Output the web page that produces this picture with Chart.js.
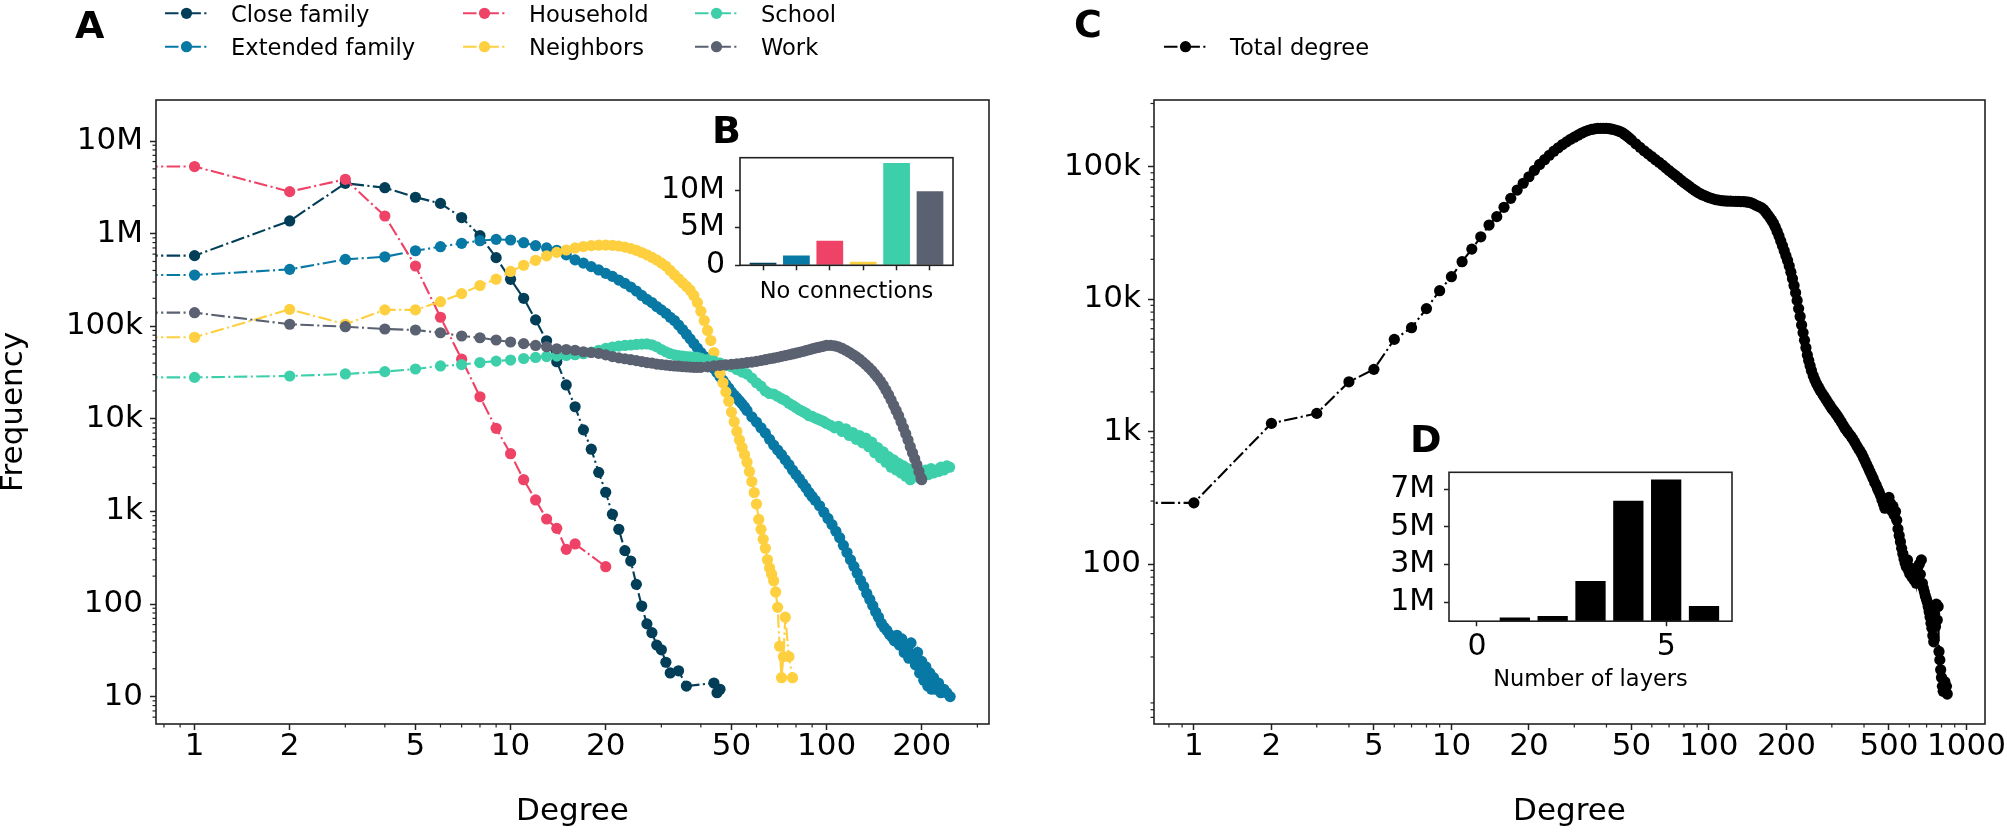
<!DOCTYPE html>
<html><head><meta charset="utf-8">
<script src="https://cdn.jsdelivr.net/npm/chart.js@4.4.1/dist/chart.umd.min.js"></script>
<style>
html,body{margin:0;padding:0;background:#fff;width:2007px;height:836px;overflow:hidden;}
canvas{position:absolute;}
#ov{position:absolute;left:0;top:0;pointer-events:none;font-family:'DejaVu Sans',sans-serif;}
</style></head><body>
<canvas id="cA" width="1040" height="836" style="left:0;top:0"></canvas>
<canvas id="cC" width="967" height="836" style="left:1040px;top:0"></canvas>
<canvas id="cB" width="330" height="175" style="left:640px;top:140px"></canvas>
<canvas id="cD" width="380" height="245" style="left:1370px;top:455px"></canvas>
<svg id="ov" width="2007" height="836" xmlns="http://www.w3.org/2000/svg"></svg>
<script>
// ---------------- DATA ----------------
// Panel A: degree distributions per layer
const closeDeg = [1,2,3,4,5,6,7,8,9,10,11,12,13,14,15,16,17,18,19,20,21,22,23,24,25,26,27,28,29,30,31,32,34,36,44,45,46];
const closeVal = [578000,1370000,3490000,3130000,2470000,2120000,1490000,949000,550000,321000,200000,117000,69600,41400,23200,13500,7600,4700,2640,1610,930,641,377,291,163,95,61,49,36,32,23.5,18,19,13,14,11,12];

const householdDeg = [1,2,3,4,5,6,7,8,9,10,11,12,13,14,15,16,20];
const householdVal = [5300000,2840000,3860000,1550000,447000,125000,44000,17300,7900,4200,2200,1330,828,656,389,445,253];

const extendedDeg = [1,2,3,4,5,6,7,8,9,10,11,12,13,14,15,16,17,18,19,20,21,22,23,24,25,26,27,28,29,30,31,32,33,34,35,36,37,38,39,40,41,42,43,44,45,46,47,48,49,50,51,52,53,54,55,56,
58,60,62,64,66,68,70,72,74,76,78,80,82,84,86,88,90,92,
95,98,101,104,107,110,113,116,119,122,125,128,131,134,137,140,143,146,149,152,155,158,161,164,167,170,173,176,179,182,185,188,191,194,197,200,203,206,209,212,215,218,
222,226,230,235,240,246];
const extendedVal = [357000,411000,527000,562000,653000,722000,786000,838000,867000,853000,798000,740000,700000,660000,590000,520000,480000,440000,405000,372000,345000,315000,290000,265000,240000,215000,195000,180000,163000,150000,138000,125000,115000,103000,92000,82000,73000,65000,58000,52000,
47000,43000,39000,35000,31500,28500,26000,23500,21500,19500,18000,16800,15600,14500,13400,12300,
10500,9200,8000,7000,6000,5200,4600,4100,3600,3200,2800,2500,2250,2000,1800,1600,1450,1320,
1150,980,840,720,610,520,430,360,300,255,215,180,155,130,112,96,82,72,62,56,52,47,44,40,46,36,42,30,34,26,38,28,22,30,18,24,15,21,13,18,12,16,
12,14,11,12,11,10];

const neighborsDeg = [1,2,3,4,5,6,7,8,9,10,11,12,13,14,15,16,17,18,19,20,21,22,23,24,25,26,27,28,29,30,31,32,33,34,35,36,37,38,39,40,41,42,43,44,45,46,47,48,49,50,51,52,53,54,55,56,57,58,59,60,61,62,63,64,65,66,67,68,69,70,71,72,73,74,76,78];
const neighborsVal = [75900,152000,105000,150000,150000,184000,225000,275000,322000,390000,
455000,515000,575000,627000,665000,700000,725000,742000,750000,752000,
748000,735000,715000,690000,660000,625000,590000,555000,519000,480000,
445000,400000,360000,325000,295000,270000,245000,215000,180000,145000,
115000,90000,70000,52000,40000,31000,24500,19500,15500,11800,
9300,7300,5900,4900,4100,3400,2700,2100,1600,1200,
820,640,500,400,300,245,210,178,135,92,
35,16,27,72,27,16];

const schoolDeg = [1,2,3,4,5,6,7,8,9,10,11,12,13,14,15,16,17,18,19,20,21,22,23,24,25,26,27,28,29,30,31,32,33,34,35,36,37,38,39,40,
42,44,46,48,50,52,54,56,58,60,62,64,66,68,70,72,74,76,78,80,82,84,86,88,90,92,94,96,98,100,
103,106,109,112,115,118,121,124,127,130,133,136,139,142,145,148,151,154,157,160,163,166,169,172,175,178,181,184,187,190,193,196,199,202,
206,210,214,218,222,226,230,235,240,245];
const schoolVal = [28000,29000,30500,32300,34500,37200,38500,40500,42000,43100,44800,46000,47000,47600,48300,49200,50500,52500,55000,57500,59500,61000,62000,62700,63500,64000,64300,63000,60000,56000,53000,50500,49000,48000,47500,47000,46800,46500,46000,45000,
43500,42000,40000,38000,36500,34000,32000,30500,27500,24500,22500,20000,18800,18500,17500,16500,15800,14700,14000,13200,12500,12000,11500,10800,10600,10200,9900,9600,9300,8900,
8500,8000,8300,7300,7800,6600,7100,6000,6600,5500,6200,5000,5600,4300,4900,3800,4400,3400,3900,3000,3600,2800,3300,2600,3100,2400,2900,2200,2700,2400,2800,2300,2600,2400,
2800,2500,2900,2600,2800,2700,3000,2800,3100,3000];

const workDeg = [1,2,3,4,5,6,7,8,9,10,11,12,13,14,15,16,17,18,19,20,21,22,23,24,25,26,27,28,29,30,31,32,33,34,35,36,37,38,39,40,
42,44,46,48,50,52,54,56,58,60,62,64,66,68,70,72,74,76,78,80,82,84,86,88,90,92,94,96,98,100,
103,106,109,112,115,118,121,124,127,130,133,136,139,142,145,148,151,154,157,160,163,166,169,172,175,178,181,184,187,190,193,196,199,200];
const workVal = [140000,105000,98800,93300,91000,85000,78400,75000,71000,67500,64800,62000,60000,57000,56000,55000,53000,52000,51000,49000,47000,45500,44500,43500,42500,41500,40500,40000,39000,38500,38000,37500,37200,37000,36600,36400,36200,36000,36000,36000,
36400,37200,37800,38300,38800,39300,39800,40400,41000,41800,42600,43500,44500,45300,46200,47200,48200,49200,50200,51200,52200,53300,54500,55700,56900,58000,59000,60000,61000,62000,
62200,61400,59800,57500,55000,52300,49500,46900,44000,41200,38500,35800,33200,30500,28000,25500,23000,20500,18200,16000,14000,12300,10800,9300,8000,6900,5900,5000,4300,3700,3200,2700,2300,2200];

// Panel B: people with no connections per layer
const noConnLabels = ['Close family','Extended family','Household','Neighbors','School','Work'];
const noConnVal = [350000,1300000,3250000,470000,13600000,9850000];

// Panel C: total degree distribution
const totalDeg = [1,2,3,4,5,6,7,8,9,10,11,12,13,14,15,16,17,18,19,20,21,22,23,24,25,26,27,28,29,30,31,32,33,34,35,36,37,38,39,40,41,42,43,44,45,46,47,48,49,50,
52,54,56,58,60,62,64,66,68,70,72,74,76,78,80,82,84,86,88,90,92,94,96,98,100,
103,106,109,112,115,118,121,124,127,130,133,136,139,142,145,148,151,154,157,160,163,166,169,172,175,178,181,184,187,190,193,196,199,
202,205,208,211,214,217,220,223,226,229,232,235,238,241,244,247,250,
254,258,262,266,270,275,280,285,290,295,300,305,310,315,320,
326,332,338,344,350,356,362,368,374,380,386,392,398,404,410,416,422,428,434,440,446,452,458,464,470,476,482,488,494,500,
506,512,518,524,530,536,542,548,554,560,566,572,578,584,590,596,602,608,614,620,626,632,638,644,650,656,662,668,674,680,
686,692,698,704,710,716,722,728,734,740,746,752,758,764,770,776,782,788,794,800,806,812,818,824,830,836,842];
const totalVal = [291,1157,1376,2382,2958,4977,6100,8500,11600,14800,19200,23900,29600,36300,42000,49400,57700,66700,75000,84000,94000,104000,113000,122000,131000,139000,147000,154000,161000,167000,173000,179000,184000,188000,191000,193000,194500,195000,195000,194500,193500,192000,190000,187500,184500,181000,176000,170500,165000,159500,
149000,140000,132000,125000,119000,113000,108000,103000,98000,93500,89500,86000,82500,79000,76000,73500,71000,68500,66500,64500,63000,61500,60500,59500,58500,
57500,56500,56000,55500,55200,55000,55000,54900,54800,54700,54600,54500,54300,54000,53500,52800,51500,50700,49900,49000,47500,45500,43500,41500,39500,37400,35000,32500,30000,27500,25300,23200,21300,
19600,17800,16000,14300,12700,11200,9800,8500,7400,6400,5600,4900,4300,3800,3450,3150,2900,
2650,2450,2300,2180,2060,1950,1850,1750,1660,1580,1500,1440,1380,1320,1260,
1190,1120,1060,1010,965,925,880,835,790,750,715,680,640,600,565,530,500,470,445,415,395,370,350,330,305,285,265,300,270,320,
290,255,275,235,250,215,185,165,148,132,120,110,102,96,108,90,85,94,80,88,76,82,72,92,78,100,84,108,72,66,
62,58,55,52,48,44,40,36,33,29,26,42,34,50,38,48,22,19,16,14,12,11,12,13,11,12,10.5];

// Panel D: number of layers each person belongs to
const layersX = [0,1,2,3,4,5,6];
const layersVal = [0,200000,270000,2130000,6380000,7510000,800000];

// Tick values and labels
const aXTicks = [1,2,5,10,20,50,100,200];
const aXLabels = ['1','2','5','10','20','50','100','200'];
const aYTicks = [10,100,1000,10000,100000,1000000,10000000];
const aYLabels = ['10','100','1k','10k','100k','1M','10M'];
const cXTicks = [1,2,5,10,20,50,100,200,500,1000];
const cXLabels = ['1','2','5','10','20','50','100','200','500','1000'];
const cYTicks = [100,1000,10000,100000];
const cYLabels = ['100','1k','10k','100k'];
const bYTicks = [0,5000000,10000000];
const bYLabels = ['0','5M','10M'];
const dXTicks = [0,5];
const dXLabels = ['0','5'];
const dYTicks = [1000000,3000000,5000000,7000000];
const dYLabels = ['1M','3M','5M','7M'];

// ---------------- STYLE ----------------
const FONT = "'DejaVu Sans', sans-serif";
Chart.defaults.font.family = FONT;
Chart.defaults.color = '#000';
const COLORS = {
  'Close family':'#023e58', 'Extended family':'#0878a4', 'Household':'#ee4266',
  'Neighbors':'#fecf3e', 'School':'#3dcfaa', 'Work':'#5a6170', 'Total degree':'#000000'
};
const DASH = [13.5,3.4,2.1,3.4];
const LW = 2.1, PR = 5.6;

const seriesA = [
  {label:'Close family', deg:closeDeg, val:closeVal},
  {label:'Extended family', deg:extendedDeg, val:extendedVal},
  {label:'Household', deg:householdDeg, val:householdVal},
  {label:'Neighbors', deg:neighborsDeg, val:neighborsVal},
  {label:'School', deg:schoolDeg, val:schoolVal},
  {label:'Work', deg:workDeg, val:workVal}
];

function lineDataset(s, order, xLeft) {
  // first entry: horizontal lead-in from the left axis edge at the first value
  const pts = [{x:xLeft, y:s.val[0]}].concat(s.deg.map((d,i)=>({x:d, y:s.val[i]})));
  const c = COLORS[s.label];
  return {
    label:s.label, data:pts, borderColor:c, backgroundColor:c,
    pointBackgroundColor:c, pointBorderWidth:0, pointBorderColor:c,
    pointRadius: pts.map((p,i)=> i===0 ? 0 : PR), pointHoverRadius:0,
    borderWidth:LW, borderDash:DASH, tension:0, order:order, fill:false
  };
}

function minorLog(lo, hi, skip) {
  const out = [];
  for (let e=-1; e<=6; e++) for (let m=2; m<=9; m++) {
    const v = m*Math.pow(10,e);
    if (v>lo && v<hi && !skip.includes(v)) out.push(v);
  }
  return out;
}

const framePlugin = {
  id:'frame',
  beforeDraw(chart, args, opts) {
    if (opts.fill) {
      const a = chart.chartArea, ctx = chart.ctx;
      ctx.save(); ctx.fillStyle='#fff'; ctx.fillRect(a.left,a.top,a.right-a.left,a.bottom-a.top); ctx.restore();
    }
  },
  afterDraw(chart, args, opts) {
    const a = chart.chartArea, ctx = chart.ctx;
    ctx.save();
    ctx.strokeStyle = '#222'; ctx.lineWidth = 1.2;
    (opts.minorX||[]).forEach(v=>{
      const p = chart.scales.x.getPixelForValue(v);
      ctx.beginPath(); ctx.moveTo(p,a.bottom); ctx.lineTo(p,a.bottom+3.5); ctx.stroke();
    });
    (opts.minorY||[]).forEach(v=>{
      const p = chart.scales.y.getPixelForValue(v);
      ctx.beginPath(); ctx.moveTo(a.left-3.5,p); ctx.lineTo(a.left,p); ctx.stroke();
    });
    ctx.lineWidth = 1.6;
    ctx.strokeRect(a.left, a.top, a.right-a.left, a.bottom-a.top);
    ctx.restore();
  }
};

function axis(opts) {
  const o = {
    type:opts.type, min:opts.min, max:opts.max, offset:false,
    border:{display:false},
    grid:{display:true, drawOnChartArea:false, drawTicks:true, tickLength:opts.tickLen, tickColor:'#222', tickWidth:1.5, offset:false},
    ticks:{autoSkip:false, maxRotation:0, minRotation:0, padding:opts.pad, color:'#000',
      font:{family:FONT, size:opts.font, lineHeight:1},
      callback:(v,i)=> opts.labels[i]},
    afterBuildTicks:(ax)=>{ ax.ticks = opts.ticks.filter(v=>v>=opts.min && v<=opts.max).map(v=>({value:v})); },
    afterFit:(ax)=>{
      if (opts.horizontal) ax.height = opts.size; else ax.width = opts.size;
      ax.paddingLeft = 0; ax.paddingRight = 0; ax.paddingTop = 0; ax.paddingBottom = 0;
    }
  };
  if (opts.title) o.title = {display:true, text:opts.title.text, color:'#000',
      font:{family:FONT, size:opts.title.size, lineHeight:opts.title.lh}, padding:opts.title.padding};
  return o;
}

function baseOptions(pad) {
  return {
    responsive:false, animation:false, devicePixelRatio:1, events:[],
    layout:{padding:pad, autoPadding:false},
    plugins:{legend:{display:false}, tooltip:{enabled:false}}
  };
}

// ---------------- PANEL A ----------------
const A_XMIN = 0.755, A_XMAX = 326.5, A_YMIN = 5.06, A_YMAX = 2.772e7;
const optA = baseOptions({left:0, top:100, right:51, bottom:0});
optA.scales = {
  x: axis({type:'logarithmic', min:A_XMIN, max:A_XMAX, ticks:aXTicks, labels:aXLabels, horizontal:true, size:112, tickLen:6, pad:1.5, font:31,
           title:{text:'Degree', size:31, lh:0.92, padding:{top:0,bottom:9.7}}}),
  y: axis({type:'logarithmic', min:A_YMIN, max:A_YMAX, ticks:aYTicks, labels:aYLabels, horizontal:false, size:156, tickLen:6, pad:7, font:31,
           title:{text:'Frequency', size:31, lh:0.92, padding:{top:0,bottom:0}}})
};
optA.plugins.frame = {minorX:minorLog(A_XMIN,A_XMAX,aXTicks), minorY:minorLog(A_YMIN,A_YMAX,aYTicks)};
new Chart(document.getElementById('cA'), {
  type:'line',
  data:{datasets: seriesA.map((s,i)=> lineDataset(s, 6-i, 0.5))},
  options:optA, plugins:[framePlugin]
});

// ---------------- PANEL C ----------------
const C_XMIN = 0.709, C_XMAX = 1180, C_YMIN = 6.24, C_YMAX = 3.187e5;
const optC = baseOptions({left:0, top:100, right:22, bottom:0});
optC.scales = {
  x: axis({type:'logarithmic', min:C_XMIN, max:C_XMAX, ticks:cXTicks, labels:cXLabels, horizontal:true, size:112, tickLen:6, pad:1.5, font:31,
           title:{text:'Degree', size:31, lh:0.92, padding:{top:0,bottom:9.7}}}),
  y: axis({type:'logarithmic', min:C_YMIN, max:C_YMAX, ticks:cYTicks, labels:cYLabels, horizontal:false, size:114, tickLen:6, pad:7, font:31})
};
optC.plugins.frame = {minorX:minorLog(C_XMIN,C_XMAX,cXTicks), minorY:minorLog(C_YMIN,C_YMAX,cYTicks)};
new Chart(document.getElementById('cC'), {
  type:'line',
  data:{datasets:[lineDataset({label:'Total degree', deg:totalDeg, val:totalVal}, 1, 0.5)]},
  options:optC, plugins:[framePlugin]
});

// ---------------- PANEL B (inset) ----------------
const optB = baseOptions({left:0, top:17.7, right:17, bottom:0});
optB.scales = {
  x: axis({type:'linear', min:-0.689, max:5.689, ticks:[0,1,2,3,4,5], labels:['','','','','',''], horizontal:true, size:49.7, tickLen:5, pad:2, font:30,
           title:{text:'No connections', size:22.5, lh:1.2, padding:{top:0,bottom:9.3}}}),
  y: axis({type:'linear', min:0, max:14.3e6, ticks:bYTicks, labels:bYLabels, horizontal:false, size:100, tickLen:5, pad:10, font:30})
};
optB.plugins.frame = {fill:true};
new Chart(document.getElementById('cB'), {
  type:'bar',
  data:{datasets:[{label:'No connections', data:noConnVal.map((v,i)=>({x:i, y:v})),
    backgroundColor:noConnLabels.map(l=>COLORS[l]), borderWidth:0, barPercentage:0.8, categoryPercentage:1}]},
  options:optB, plugins:[framePlugin]
});

// ---------------- PANEL D (inset) ----------------
const optD = baseOptions({left:0, top:17.3, right:18, bottom:0});
optD.scales = {
  x: axis({type:'linear', min:-0.74, max:6.74, ticks:dXTicks, labels:dXLabels, horizontal:true, size:78.8, tickLen:5, pad:6.3, font:30,
           title:{text:'Number of layers', size:22.5, lh:1.2, padding:{top:0,bottom:6.2}}}),
  y: axis({type:'linear', min:0, max:7.886e6, ticks:dYTicks, labels:dYLabels, horizontal:false, size:79, tickLen:5, pad:8.8, font:30})
};
optD.plugins.frame = {fill:true};
new Chart(document.getElementById('cD'), {
  type:'bar',
  data:{datasets:[{label:'Number of layers', data:layersVal.map((v,i)=>({x:layersX[i], y:v})),
    backgroundColor:'#000', borderWidth:0, barPercentage:0.8, categoryPercentage:1}]},
  options:optD, plugins:[framePlugin]
});

// ---------------- LEGENDS & PANEL LETTERS (SVG text) ----------------
const svg = document.getElementById('ov');
const NS = 'http://www.w3.org/2000/svg';
function el(name, attrs, text) {
  const e = document.createElementNS(NS, name);
  for (const k in attrs) e.setAttribute(k, attrs[k]);
  if (text !== undefined) e.textContent = text;
  svg.appendChild(e);
  return e;
}
function legendItem(x0, yc, label) {
  const c = COLORS[label];
  el('line', {x1:x0, x2:x0+43, y1:yc, y2:yc, stroke:c, 'stroke-width':LW, 'stroke-dasharray':DASH.join(' ')});
  el('circle', {cx:x0+21.5, cy:yc, r:PR, fill:c});
  el('text', {x:x0+66, y:yc+8.4, 'font-size':22.6, fill:'#000'}, label);
}
const legCols = [165, 463, 695], legRows = [13.3, 46.7];
seriesA.forEach((s,i)=> legendItem(legCols[Math.floor(i/2)], legRows[i%2], s.label));
legendItem(1164, 46.7, 'Total degree');

[['A',75,38],['B',712,143],['C',1074,37],['D',1410,452]].forEach(([t,x,y])=>
  el('text', {x:x, y:y, 'font-size':38, 'font-weight':'bold', fill:'#000'}, t));
</script>
</body></html>
